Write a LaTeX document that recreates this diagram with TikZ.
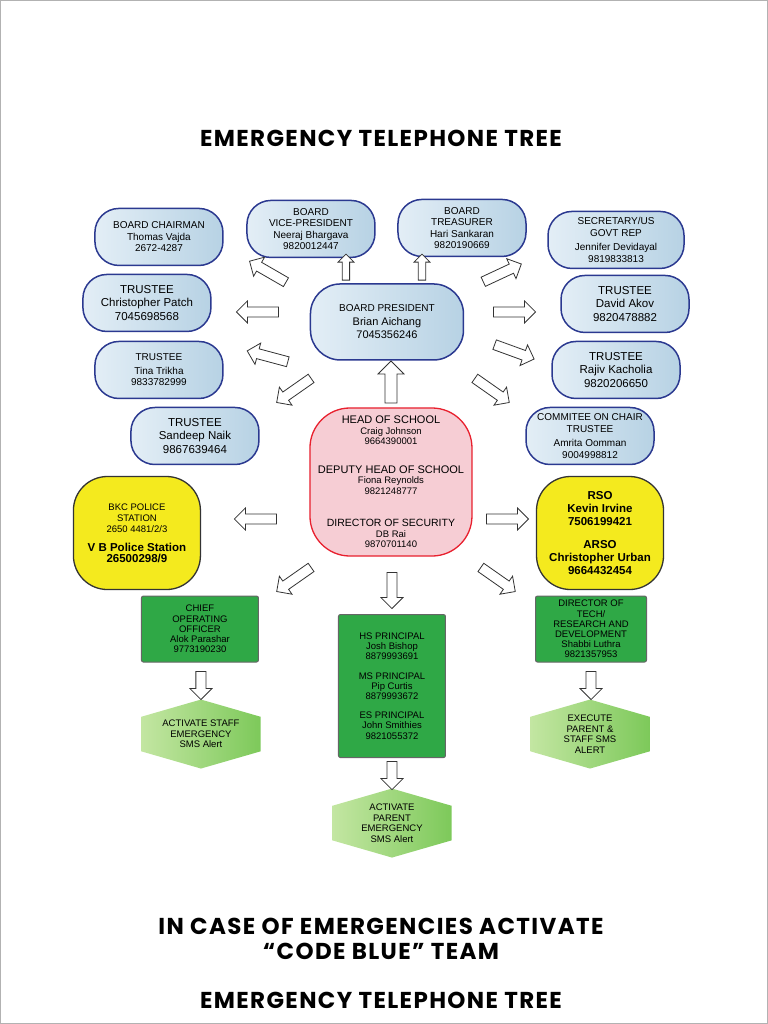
\documentclass[tikz,border=0pt]{standalone}
\usepackage{fontspec}
\setmainfont{Liberation Sans}
\newfontfamily\titlefont[LetterSpace=6]{Poppins}
\usetikzlibrary{shapes.geometric, shapes.arrows, positioning}
\definecolor{boardline}{HTML}{2B3990}
\definecolor{boardlight}{HTML}{E3EEF6}
\definecolor{boarddark}{HTML}{B7D2E4}
\definecolor{headline}{HTML}{E8202E}
\definecolor{headfill}{HTML}{F6CDD4}
\definecolor{policefill}{HTML}{F4EA1E}
\definecolor{staffgreen}{HTML}{2FA846}
\definecolor{alertlight}{HTML}{C3E6A2}
\definecolor{alertdark}{HTML}{7DC95A}

\begin{document}
\begin{tikzpicture}[
        x=1pt, y=-1pt,
        board/.style={
          rectangle,
          rounded corners=24pt,
          draw=boardline,
          line width=1.5pt,
          left color=boardlight,
          right color=boarddark,
          minimum width=128pt,
          minimum height=57pt,
          align=center,
          font=\fontsize{10}{11.5}\selectfont
        },
        big/.style={font=\fontsize{11.5}{13.5}\selectfont},
        head/.style={
          rectangle,
          rounded corners=40pt,
          draw=headline,
          line width=1.3pt,
          fill=headfill,
          minimum width=162pt,
          minimum height=148pt,
          align=center,
          font=\fontsize{9.5}{10.5}\selectfont
        },
        police/.style={
          rectangle,
          rounded corners=34pt,
          draw=black!80,
          line width=1.3pt,
          fill=policefill,
          minimum width=127pt,
          minimum height=113pt,
          align=center,
          font=\fontsize{9.5}{11}\selectfont
        },
        staff/.style={
          rectangle,
          rounded corners=2pt,
          draw=black!60,
          line width=1pt,
          fill=staffgreen,
          minimum width=117pt,
          minimum height=66pt,
          align=center,
          font=\fontsize{9.5}{10.2}\selectfont
        },
        alert/.style={
          regular polygon,
          regular polygon sides=6,
          shape border rotate=30,
          inner sep=0pt,
          minimum size=138pt,
          yscale=0.5,
          left color=alertlight,
          right color=alertdark
        },
        alerttext/.style={
          align=center,
          font=\fontsize{9.5}{10.5}\selectfont
        },
        blockarrow/.style={
          single arrow,
          draw=black!80,
          fill=white,
          line width=0.8pt,
          minimum height=42pt,
          minimum width=22pt,
          single arrow head extend=4pt,
          inner sep=3pt
        },
        title/.style={
          font=\titlefont\bfseries\fontsize{23}{28}\selectfont
        }
      ]

      % Frame
      \draw[black!30, line width=0.8pt] (0.5,0.5) rectangle (767.5,1023.5);

      % Titles
      \node[title] (top) at (381,138) {EMERGENCY TELEPHONE TREE};
      \node[title] (case) at (381,926) {IN CASE OF EMERGENCIES ACTIVATE};
      \node[title] (blue) at (381,951) {“CODE BLUE” TEAM};
      \node[title] (bottom) at (381,1000) {EMERGENCY TELEPHONE TREE};

      % Board
      \node[board] (chair) at (159,237) {BOARD CHAIRMAN\\Thomas Vajda\\2672-4287};
      \node[board] (vice) at (311,229) {BOARD\\VICE-PRESIDENT\\Neeraj Bhargava\\9820012447};
      \node[board] (treas) at (462,228) {BOARD\\TREASURER\\Hari Sankaran\\9820190669};
      \node[board, minimum width=136pt] (secr) at (616,240) {SECRETARY/US\\GOVT REP\\[3pt]Jennifer Devidayal\\9819833813};
      \node[board, big] (patch) at (147,303) {TRUSTEE\\Christopher Patch\\7045698568};
      \node[board, minimum width=153pt, minimum height=76pt, rounded corners=30pt] (pres) at (387,322) {BOARD PRESIDENT\\[2pt]\fontsize{11}{13}\selectfont Brian Aichang\\[2pt]\fontsize{11}{13}\selectfont 7045356246};
      \node[board, big] (akov) at (625,304) {TRUSTEE\\David Akov\\9820478882};
      \node[board] (trikha) at (159,370) {TRUSTEE\\[2pt]Tina Trikha\\9833782999};
      \node[board, big] (kach) at (616,370) {TRUSTEE\\Rajiv Kacholia\\9820206650};
      \node[board, big] (naik) at (195,436) {TRUSTEE\\Sandeep Naik\\9867639464};
      \node[board] (comm) at (590,436) {COMMITEE ON CHAIR\\TRUSTEE\\[3pt]Amrita Oomman\\9004998812};

      % School
      \node[head] (school) at (391,482) {\fontsize{11}{11}\selectfont HEAD OF SCHOOL\\Craig Johnson\\9664390001\\[18pt]
        \fontsize{11}{11}\selectfont DEPUTY HEAD OF SCHOOL\\Fiona Reynolds\\9821248777\\[22pt]
        \fontsize{10.5}{11}\selectfont DIRECTOR OF SECURITY\\DB Rai\\9870701140};
      \node[police] (bkc) at (137,533) {BKC POLICE\\STATION\\2650 4481/2/3\\[8pt]
        \fontsize{11.5}{13}\selectfont\bfseries V B Police Station\\\fontsize{11.5}{13}\selectfont\bfseries 26500298/9};
      \node[police, font=\fontsize{11.5}{13}\selectfont\bfseries] (rso) at (600,533) {RSO\\Kevin Irvine\\7506199421\\[10pt]ARSO\\Christopher Urban\\9664432454};

      % Staff
      \node[staff] (coo) at (200,629) {CHIEF\\OPERATING\\OFFICER\\Alok Parashar\\9773190230};
      \node[staff, minimum width=107pt, minimum height=143pt] (princ) at (392,686) {HS PRINCIPAL\\Josh Bishop\\8879993691\\[9pt]
        MS PRINCIPAL\\Pip Curtis\\8879993672\\[9pt]ES PRINCIPAL\\John Smithies\\9821055372};
      \node[staff, minimum width=111pt] (tech) at (591,629) {DIRECTOR OF\\TECH/\\RESEARCH AND\\DEVELOPMENT\\Shabbi Luthra\\9821357953};

      % Alerts
      \node[alert] (staffsms) at (201,734) {};
      \node[alerttext] at (staffsms) {ACTIVATE STAFF\\EMERGENCY\\SMS Alert};
      \node[alert] (parentsms) at (392,823) {};
      \node[alerttext] at (parentsms) {ACTIVATE\\PARENT\\EMERGENCY\\SMS Alert};
      \node[alert] (execsms) at (590,734) {};
      \node[alerttext] at (execsms) {EXECUTE\\PARENT \&\\STAFF SMS\\ALERT};

      % Arrows
      \node[blockarrow, rotate=150] (toChair) at (270,273) {};
      \node[blockarrow, rotate=90, minimum height=26pt, minimum width=16pt] (toVice) at (346,269) {};
      \node[blockarrow, rotate=90, minimum height=26pt, minimum width=16pt] (toTreas) at (422,269) {};
      \node[blockarrow, rotate=25] (toSecr) at (500,274) {};
      \node[blockarrow, rotate=180] (toPatch) at (260,312) {};
      \node[blockarrow] (toAkov) at (512,312) {};
      \node[blockarrow, rotate=165] (toTrikha) at (270,357) {};
      \node[blockarrow, rotate=-20] (toKach) at (512,351) {};
      \node[blockarrow, rotate=-145] (toNaik) at (296,389) {};
      \node[blockarrow, rotate=90, minimum width=26pt] (toPres) at (391,385) {};
      \node[blockarrow, rotate=-35] (toComm) at (490,389) {};
      \node[blockarrow, rotate=180] (toBkc) at (258,519) {};
      \node[blockarrow] (toRso) at (505,519) {};
      \node[blockarrow, rotate=-145] (toCoo) at (296,578) {};
      \node[blockarrow, rotate=-90, minimum height=36pt] (toPrinc) at (392,588) {};
      \node[blockarrow, rotate=-35] (toTech) at (496,578) {};
      \node[blockarrow, rotate=-90, minimum height=28pt] (toStaffsms) at (201,683) {};
      \node[blockarrow, rotate=-90, minimum height=28pt] (toParentsms) at (392,773) {};
      \node[blockarrow, rotate=-90, minimum height=28pt] (toExecsms) at (591,683) {};

    \end{tikzpicture}
\end{document}
